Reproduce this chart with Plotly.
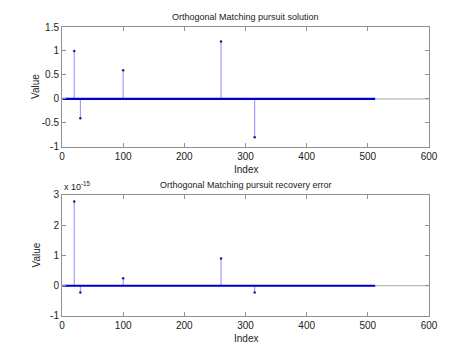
import plotly.graph_objects as go
from plotly.subplots import make_subplots

# ---- data ----
n_samples = 512
support_idx = [20, 30, 100, 260, 315]
solution_vals = [1.0, -0.4, 0.6, 1.2, -0.8]
error_vals_scaled = [2.78, -0.22, 0.25, 0.9, -0.22]   # units of 1e-15
error_exp = -15
x_ticks = [0, 100, 200, 300, 400, 500, 600]
y1_ticks = [-1, -0.5, 0, 0.5, 1, 1.5]
y1_ticktext = ["-1", "-0.5", "0", "0.5", "1", "1.5"]
y2_ticks_scaled = [-1, 0, 1, 2, 3]

error_vals = [v * 10 ** error_exp for v in error_vals_scaled]

FONT = "Liberation Sans, Arial, sans-serif"
STEM = "#8c8cff"
DOT = "#202080"
ZERO = "#0000cc"
TXT = "#222"

TOP_DOM = [0.585, 1.0]
BOT_DOM = [0.0, 0.419]

fig = make_subplots(rows=2, cols=1, vertical_spacing=0.166)

def add_stem(row, xs, ys):
    sx, sy = [], []
    for x, y in zip(xs, ys):
        sx += [x, x, None]
        sy += [0, y, None]
    fig.add_trace(go.Scatter(x=[x_ticks[0], x_ticks[-1]], y=[0, 0], mode="lines",
                             line=dict(color="#a8a8a8", width=1), hoverinfo="skip"), row=row, col=1)
    fig.add_trace(go.Scatter(x=sx, y=sy, mode="lines",
                             line=dict(color=STEM, width=1), hoverinfo="skip"), row=row, col=1)
    fig.add_trace(go.Scatter(x=[1, n_samples], y=[0, 0], mode="lines",
                             line=dict(color=ZERO, width=2.2), hoverinfo="skip"), row=row, col=1)
    fig.add_trace(go.Scatter(x=xs, y=ys, mode="markers",
                             marker=dict(color=DOT, size=2.5), hoverinfo="skip"), row=row, col=1)

add_stem(1, support_idx, solution_vals)
add_stem(2, support_idx, error_vals)

axis_common = dict(showline=True, linecolor="#909090", linewidth=1, mirror="ticks",
                   ticks="inside", ticklen=4, tickcolor="#909090", showgrid=False,
                   zeroline=False, automargin=False, tickfont=dict(size=10, color=TXT))

for r in (1, 2):
    fig.update_xaxes(range=[0, 600], tickvals=x_ticks, row=r, col=1, **axis_common)
    fig.update_yaxes(row=r, col=1, **axis_common)

fig.update_yaxes(domain=TOP_DOM, range=[-1, 1.5], tickvals=y1_ticks, ticktext=y1_ticktext, row=1, col=1)
fig.update_yaxes(domain=BOT_DOM, range=[-1 * 10 ** error_exp, 3 * 10 ** error_exp],
                 tickvals=[t * 10 ** error_exp for t in y2_ticks_scaled],
                 ticktext=[str(t) for t in y2_ticks_scaled], row=2, col=1)

def ann(text, x, y, xa="center", ya="middle", xs=0, ys=0, size=10, angle=0):
    return dict(text=text, xref="paper", yref="paper", x=x, y=y, xshift=xs, yshift=ys,
                xanchor=xa, yanchor=ya, showarrow=False, textangle=angle,
                font=dict(size=size, color=TXT, family=FONT))

fig.update_layout(
    width=474, height=355,
    # page body has an 8px margin; offsets chosen so the plot area lands at 62..429 x 27..316
    margin=dict(l=54, r=53, t=19, b=47, autoexpand=False),
    paper_bgcolor="white", plot_bgcolor="white",
    showlegend=False,
    font=dict(family=FONT, size=10, color=TXT),
    annotations=[
        ann("Orthogonal Matching pursuit solution", 0.5, TOP_DOM[1], ya="bottom", ys=3, size=9),
        ann("Orthogonal Matching pursuit recovery error", 0.5, BOT_DOM[1], ya="bottom", ys=3, size=9),
        ann("x 10<sup>%d</sup>" % error_exp, 0.0, BOT_DOM[1], xa="left", ya="bottom", ys=1, size=9),
        ann("Index", 0.5, TOP_DOM[0], ya="top", ys=-15),
        ann("Index", 0.5, BOT_DOM[0], ya="top", ys=-15),
        ann("Value", 0.0, sum(TOP_DOM) / 2, xs=-26, angle=-90),
        ann("Value", 0.0, sum(BOT_DOM) / 2, xs=-26, angle=-90),
    ],
)

fig.write_html("out.html")
